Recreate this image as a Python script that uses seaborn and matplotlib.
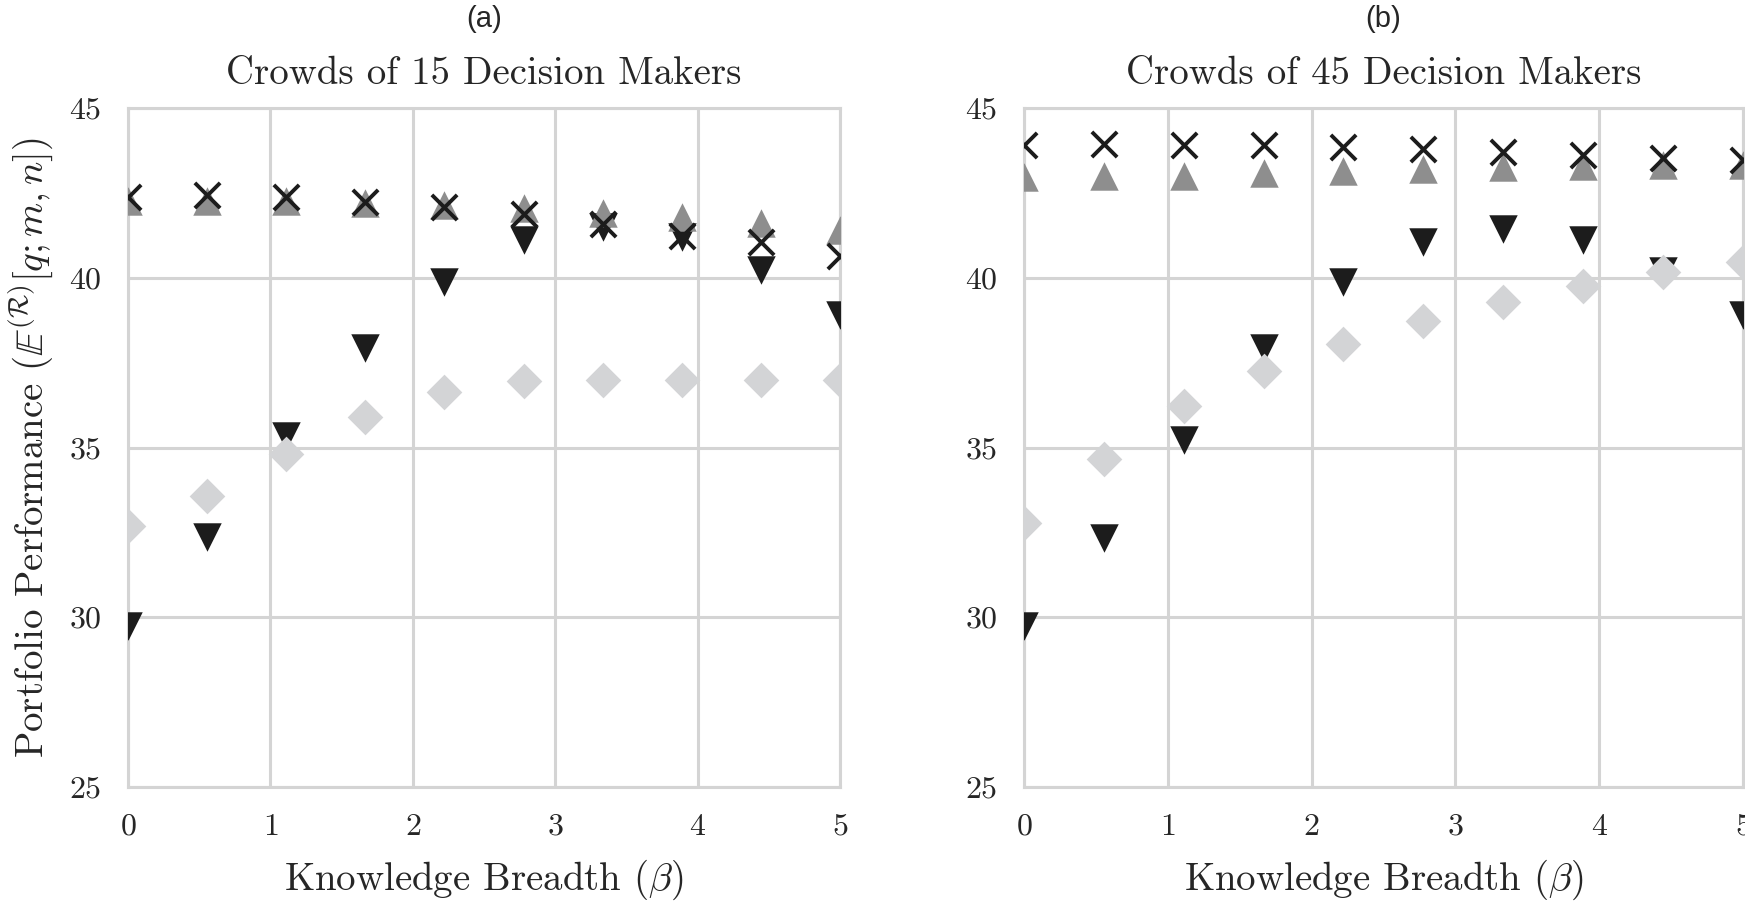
import numpy as np
import pandas as pd
import seaborn as sns
import matplotlib.pyplot as plt

# knowledge breadth values (10 evenly spaced points 0..5)
beta = [0.0, 0.556, 1.111, 1.667, 2.222, 2.778, 3.333, 3.889, 4.444, 5.0]

# crowds of 15
cross_15 = [42.37, 42.45, 42.37, 42.23, 42.08, 41.88, 41.59, 41.24, 41.04, 40.65]
up_15 = [42.25, 42.25, 42.25, 42.2, 42.13, 42.05, 41.92, 41.78, 41.6, 41.4]
down_15 = [29.74, 32.35, 35.35, 37.92, 39.88, 41.1, 41.5, 41.2, 40.22, 38.9]
diamond_15 = [32.68, 33.56, 34.8, 35.9, 36.63, 36.97, 37.0, 37.0, 37.0, 37.0]

# crowds of 45
cross_45 = [43.92, 43.95, 43.92, 43.9, 43.85, 43.8, 43.7, 43.63, 43.53, 43.46]
up_45 = [42.97, 43.0, 43.0, 43.09, 43.15, 43.2, 43.25, 43.3, 43.33, 43.33]
down_45 = [29.73, 32.33, 35.23, 37.94, 39.88, 41.05, 41.45, 41.1, 40.2, 38.9]
diamond_45 = [32.77, 34.67, 36.21, 37.25, 38.06, 38.73, 39.3, 39.77, 40.16, 40.46]

sns.set_theme(style="whitegrid")
plt.rcParams['font.family'] = ['cmr10']
plt.rcParams['mathtext.fontset'] = 'cm'
plt.rcParams['axes.formatter.use_mathtext'] = True
plt.rcParams['axes.unicode_minus'] = False

grid_col = '#d4d4d4'

fig = plt.figure(figsize=(17.45, 9.01), dpi=100)
ax_a = fig.add_axes([0.0734, 0.1265, 0.408, 0.7536])
ax_b = fig.add_axes([0.5868, 0.1265, 0.412, 0.7536])

panels = [
    (ax_a, "(a)", "Crowds of 15 Decision Makers", cross_15, up_15, down_15, diamond_15),
    (ax_b, "(b)", "Crowds of 45 Decision Makers", cross_45, up_45, down_45, diamond_45),
]

for ax, tag, title, cr, up, dn, dm in panels:
    df = pd.DataFrame({"beta": beta, "cross": cr, "up": up, "down": dn, "diamond": dm})
    sns.scatterplot(data=df, x="beta", y="down", marker="v", s=420, color="#1c1c1c",
                    linewidth=0, ax=ax, zorder=3)
    sns.scatterplot(data=df, x="beta", y="diamond", marker="D", s=330, color="#d3d4d6",
                    linewidth=0, ax=ax, zorder=4)
    sns.scatterplot(data=df, x="beta", y="up", marker="^", s=420, color="#8e8e8e",
                    linewidth=0, ax=ax, zorder=5)
    sns.scatterplot(data=df, x="beta", y="cross", marker="x", s=330, color="#1c1c1c",
                    linewidth=2.8, ax=ax, zorder=6)

    ax.set_xlim(0, 5)
    ax.set_ylim(25, 45)
    ax.set_xticks([0, 1, 2, 3, 4, 5])
    ax.set_yticks([25, 30, 35, 40, 45])
    ax.tick_params(axis='both', labelsize=23, pad=19, length=0)
    ax.grid(True, color=grid_col, linewidth=2.2)
    for sp in ax.spines.values():
        sp.set_color(grid_col)
        sp.set_linewidth(2.2)
    ax.set_xlabel(r"Knowledge Breadth ($\beta$)", fontsize=28, labelpad=12)
    ax.set_ylabel("")
    ax.set_title(title, fontsize=28, pad=17)
    bb = ax.get_position()
    fig.text((bb.x0 + bb.x1) / 2, 0.970, tag, ha='center', va='baseline',
             fontsize=21, family='Liberation Sans')

ax_a.set_ylabel(r"Portfolio Performance $(\mathbb{E}^{(\mathcal{R})}[q;m,n])$",
                fontsize=28, labelpad=10)

fig.savefig("out.png", dpi=100)
